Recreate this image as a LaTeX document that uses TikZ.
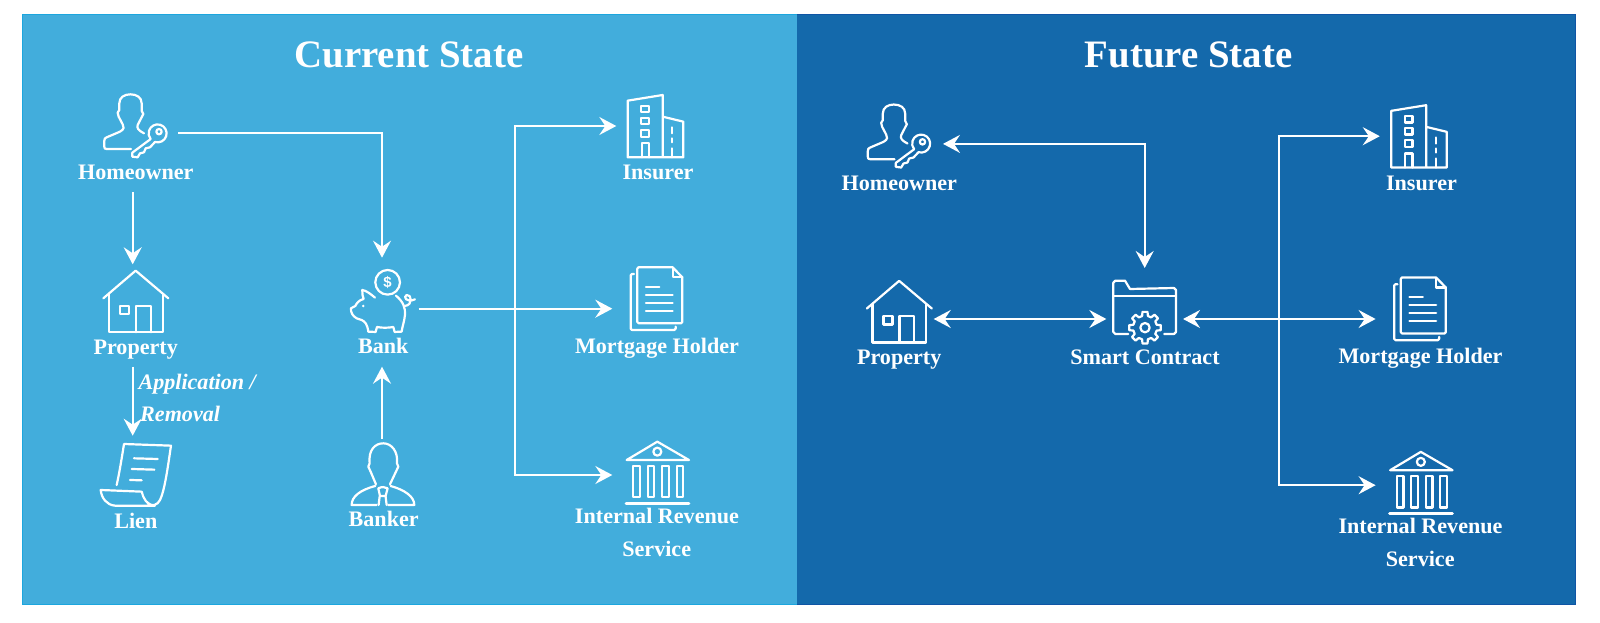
\documentclass[tikz,border=0pt]{standalone}
\usepackage{fontspec}
\setmainfont{Liberation Serif}
\newfontfamily\iconsans{Liberation Sans}
\usetikzlibrary{arrows.meta,calc}
\definecolor{lightpanel}{HTML}{42ADDC}
\definecolor{darkpanel}{HTML}{1469AB}
\definecolor{lightedge}{HTML}{1CA6DE}
\definecolor{darkedge}{HTML}{0F55A5}
\tikzset{
  conn/.style={draw=white,line width=1.9bp,>={Stealth[length=17bp,width=18bp,inset=6bp]}},
  icon/.style={draw=white,line width=2.2bp,line join=round,line cap=round},
  port/.style={inner sep=0pt,outer sep=0pt,minimum width=#1},
  lbl/.style={text=white,anchor=base,inner sep=0pt,font=\bfseries\fontsize{22.2}{26}\selectfont},
  ttl/.style={text=white,anchor=base,inner sep=0pt,font=\bfseries\fontsize{39}{44}\selectfont},
  ital/.style={text=white,anchor=base west,inner sep=0pt,font=\bfseries\itshape\fontsize{22.2}{26}\selectfont},
  ownerIcon/.pic={\begin{scope}[shift={(60,70)},scale=0.3333,icon]
    \draw (213,237) -- (140,237) .. controls (134,237) and (133,235) .. (133,230) -- (133,212)
      .. controls (133,206) and (135,204) .. (140,202) -- (180,185)
      .. controls (193,178) and (193,170) .. (188,163) -- (176,140) -- (173,128) -- (178,120) -- (178,100)
      .. controls (178,82) and (193,73) .. (211,73) .. controls (230,73) and (245,82) .. (245,100)
      -- (245,122) -- (250,132) -- (233,165) .. controls (230,175) and (235,181) .. (252,190);
    \draw (285,216) arc[start angle=107,end angle=-219,radius=27]
      -- (217,248) -- (217,260) -- (233,262) -- (240,250) -- (252,247) -- (257,235) -- (270,232) -- cycle;
    \draw (297,185) circle[radius=8];
  \end{scope}},
  houseIcon/.pic={\begin{scope}[shift={(60,70)},scale=0.3333,icon]
    \draw (130,685) -- (227,602) -- (325,685);
    \draw (147,672) -- (147,787) -- (308,787) -- (308,672);
    \draw (228,787) -- (228,708) -- (272,708) -- (272,787);
    \draw (180,708) rectangle (207,733);
  \end{scope}},
  pigIcon/.pic={\begin{scope}[shift={(60,70)},scale=0.3333,icon]
    \draw (983,637) circle[radius=37];
    \node[text=white,inner sep=0pt,font=\iconsans\bfseries\fontsize{15}{15}\selectfont] (coin) at (983,637) {\$};
    \draw (945,683) .. controls (930,670) and (918,662) .. (907,660) .. controls (906,670) and (908,680) .. (911,687)
      .. controls (897,690) and (890,700) .. (886,708) -- (873,715) .. controls (872,728) and (878,738) .. (890,745)
      -- (905,750) .. controls (915,755) and (922,762) .. (925,785) -- (947,786) -- (951,771)
      .. controls (965,774) and (985,774) .. (1000,771) -- (1004,786) -- (1025,785)
      .. controls (1027,770) and (1033,755) .. (1035,735) .. controls (1037,715) and (1030,695) .. (1008,677);
    \draw (1035,708) .. controls (1060,705) and (1055,672) .. (1040,675) .. controls (1028,680) and (1040,700) .. (1065,688);
    \fill[white] (910,708) circle[radius=4];
  \end{scope}},
  lienIcon/.pic={\begin{scope}[shift={(60,350)},scale=0.3333,icon]
    \draw (170,405) .. controls (178,370) and (186,320) .. (192,282) -- (333,287)
      .. controls (325,340) and (315,420) .. (300,450) .. controls (293,466) and (275,470) .. (263,460);
    \draw (122,420) -- (245,425) .. controls (250,445) and (260,466) .. (285,467) -- (165,467)
      .. controls (140,465) and (125,445) .. (122,420) -- cycle;
    \draw (222,325) -- (293,327);
    \draw (215,357) -- (283,359);
    \draw (210,390) -- (245,391);
  \end{scope}},
  bankerIcon/.pic={\begin{scope}[shift={(60,350)},scale=0.3333,icon]
    \draw (948,403) -- (932,365) -- (925,350) -- (929,340) .. controls (925,300) and (945,280) .. (970,280)
      .. controls (995,280) and (1015,305) .. (1011,340) -- (1015,350) -- (1008,365) -- (990,403);
    \draw (950,465) -- (875,465) .. controls (875,440) and (900,420) .. (946,408);
    \draw (985,465) -- (1063,465) .. controls (1063,440) and (1035,420) .. (992,408);
    \draw (955,415) .. controls (965,410) and (975,410) .. (983,415) -- (977,438) -- (960,438) -- cycle;
    \draw (959,440) -- (956,465);
    \draw (977,440) -- (980,465);
  \end{scope}},
  buildingIcon/.pic={\begin{scope}[shift={(560,70)},scale=0.3333,icon]
    \draw (308,262) -- (308,75) -- (203,92) -- (203,262) -- (370,262) -- (370,155) -- (308,140);
    \draw (244,107) rectangle (267,127);
    \draw (244,143) rectangle (267,163);
    \draw (244,180) rectangle (267,200);
    \draw (245,262) -- (245,220) -- (267,220) -- (267,262);
    \draw (337,172) -- (337,190);
    \draw (337,205) -- (337,217);
    \draw (337,235) -- (337,262);
  \end{scope}},
  docIcon/.pic={\begin{scope}[shift={(560,70)},scale=0.3333,icon]
    \draw (338,592) -- (235,592) -- (232,596) -- (232,756) -- (236,760) -- (363,760) -- (367,756) -- (367,622) -- cycle;
    \draw (338,594) -- (338,622) -- (367,622);
    \draw (222,612) -- (216,612) -- (212,616) -- (212,776) -- (216,780) -- (343,780) -- (347,776) -- (347,770);
    \draw (258,650) -- (298,650);
    \draw (258,674) -- (338,674);
    \draw (258,698) -- (338,698);
    \draw (258,722) -- (338,722);
  \end{scope}},
  irsIcon/.pic={\begin{scope}[shift={(560,420)},scale=0.3333,icon]
    \draw (200,120) -- (292,65) -- (387,120) -- cycle;
    \draw (292,95) circle[radius=12];
    \draw (220,138) rectangle (240,232);
    \draw (263,138) rectangle (283,232);
    \draw (307,138) rectangle (327,232);
    \draw (350,138) rectangle (370,232);
    \draw[line width=2.8bp] (198,250) -- (387,250);
  \end{scope}},
  smartIcon/.pic={\begin{scope}[shift={(1080,260)},scale=0.3333,icon]
    \draw (145,222) -- (106,222) -- (100,216) -- (100,68) -- (106,62) -- (135,62) -- (150,87) -- (282,84) -- (288,90) -- (288,216) -- (282,222) -- (253,222);
    \draw (100,107) -- (288,107);
    \begin{scope}[shift={(195,203)}]
      \foreach \a in {0,45,...,315}{
        \draw (\a-14:36) -- (\a-9:48) -- (\a+9:48) -- (\a+14:36) -- (\a+31:36);
      }
      \draw (0,0) circle[radius=14];
    \end{scope}
  \end{scope}},
}
\begin{document}
\begin{tikzpicture}[x=1bp,y=-1bp]
\useasboundingbox (0,0) rectangle (1600,623);
\fill[white] (0,0) rectangle (1600,623);
% panels
\fill[lightpanel] (22,14) rectangle (797,605);
\fill[darkpanel] (797,14) rectangle (1576,605);
\draw[lightedge,line width=1.2bp] (797,14.5) -- (22.5,14.5) -- (22.5,604.5) -- (797,604.5);
\draw[darkedge,line width=1.2bp] (797,14.5) -- (1575.5,14.5) -- (1575.5,604.5) -- (797,604.5);
% titles
\node[ttl] (curT) at (409,67.5) {Current State};
\node[ttl] (futT) at (1188.5,67.5) {Future State};
% left icons
\pic at (0,0) {ownerIcon};
\pic at (0,0) {houseIcon};
\pic at (0,0) {pigIcon};
\pic at (0,0) {lienIcon};
\pic at (0,0) {bankerIcon};
\pic at (0,0) {buildingIcon};
\pic at (0,0) {docIcon};
\pic at (0,0) {irsIcon};
% right icons
\pic at (763.5,10.2) {ownerIcon};
\pic at (763.5,10.2) {houseIcon};
\pic at (763.5,10.2) {buildingIcon};
\pic at (763.5,10.2) {docIcon};
\pic at (763.5,10.2) {irsIcon};
\pic at (0,0) {smartIcon};
% left labels
\node[lbl] (lHome) at (135.8,180) {Homeowner};
\node[lbl] (lProp) at (135.7,354.5) {Property};
\node[lbl] (lBank) at (383.3,353.5) {Bank};
\node[lbl] (lLien) at (135.8,528) {Lien};
\node[lbl] (lBanker) at (383.7,526) {Banker};
\node[lbl] (lIns) at (658,180) {Insurer};
\node[lbl] (lMort) at (657,353.5) {Mortgage Holder};
\node[lbl] (lIrsA) at (657,523.3) {Internal Revenue};
\node[lbl] (lIrsB) at (656.7,556) {Service};
\node[ital] (lApp) at (138.3,389.8) {Application /};
\node[ital] (lRem) at (140,421.5) {Removal};
% right labels
\node[lbl] (rHome) at (899.3,190.2) {Homeowner};
\node[lbl] (rProp) at (899.2,364.7) {Property};
\node[lbl] (rSmart) at (1145,364) {Smart Contract};
\node[lbl] (rIns) at (1421.5,190.2) {Insurer};
\node[lbl] (rMort) at (1420.5,363.7) {Mortgage Holder};
\node[lbl] (rIrsA) at (1420.5,533.5) {Internal Revenue};
\node[lbl] (rIrsB) at (1420.2,566.2) {Service};
% connection ports: each box ends where the connectors stop
\node[port=90.6bp,minimum height=118.6bp] (ownerL) at (132.7,132.7) {};
\node[port=60bp,minimum height=102.4bp] (propL) at (132.7,315.5) {};
\node[port=60bp,minimum height=88.6bp] (lienL) at (132.7,480) {};
\node[port=60bp,minimum height=109bp] (bankL) at (382,312.2) {};
\node[port=60bp,minimum height=82bp] (bankerL) at (382,480) {};
\node[port=83.4bp,minimum height=60bp] (insL) at (658,126) {};
\node[port=89.4bp,minimum height=60bp] (mortL) at (657,308.7) {};
\node[port=89.4bp,minimum height=60bp] (irsL) at (657,475) {};
\coordinate (bankOut) at (418.7,308.7);
\coordinate (trunkL) at (515.3,308.7);
\node[port=93.6bp,minimum height=60bp] (ownerR) at (896.2,143.9) {};
\node[port=75bp,minimum height=60bp] (propR) at (896.2,319) {};
\node[port=76.7bp,minimum height=102bp] (smartR) at (1144.7,319) {};
\node[port=83.4bp,minimum height=60bp] (insR) at (1421.5,136.2) {};
\node[port=89.8bp,minimum height=60bp] (mortR) at (1420.5,319) {};
\node[port=89.8bp,minimum height=60bp] (irsR) at (1420.5,485.2) {};
\coordinate (trunkR) at (1279,319);
% left connectors
\draw[conn,->] (ownerL.south) -- (propL.north);
\draw[conn,->] (ownerL.east) -| (bankL.north);
\draw[conn,->] (propL.south) -- (lienL.north);
\draw[conn,->] (bankerL.north) -- (bankL.south);
\draw[conn,->] (bankOut) -- (mortL.west);
\draw[conn,->] (trunkL) |- (insL.west);
\draw[conn,->] (trunkL) |- (irsL.west);
% right connectors
\draw[conn,<->] (ownerR.east) -| (smartR.north);
\draw[conn,<->] (propR.east) -- (smartR.west);
\draw[conn,<->] (smartR.east) -- (mortR.west);
\draw[conn,->] (trunkR) |- (insR.west);
\draw[conn,->] (trunkR) |- (irsR.west);
\end{tikzpicture}
\end{document}
